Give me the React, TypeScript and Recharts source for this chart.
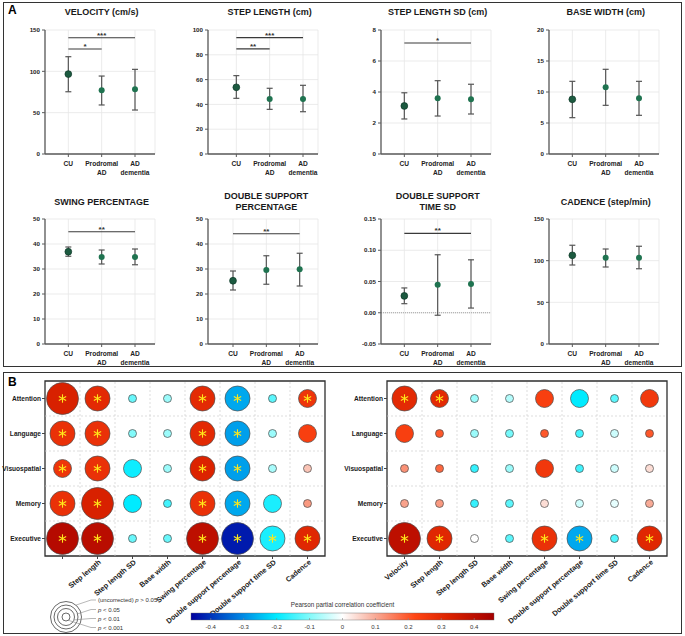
import React from "react";
import {
  ScatterChart,
  Scatter,
  ErrorBar,
  XAxis,
  YAxis,
  CartesianGrid,
  ReferenceLine,
  ReferenceArea,
} from "recharts";

const FONT = '"Liberation Sans", Arial, Helvetica, sans-serif';

// ---- panel A: group means with error bars ----
const GROUP_LINES = [["CU"], ["Prodromal", "AD"], ["AD", "dementia"]];

const velocityMean = [96.7, 77, 78.2];
const velocityLow = [75.3, 59.3, 53.2];
const velocityHigh = [117.7, 94.3, 102.4];
const velocityTicks = [0, 50, 100, 150];
const velocitySig = [
  { from: 1, to: 3, y: 140.6, label: "***" },
  { from: 1, to: 2, y: 127, label: "*" },
];

const stepMean = [53.8, 44.4, 44.4];
const stepLow = [44.9, 36, 34.1];
const stepHigh = [63.2, 53, 55.4];
const stepTicks = [0, 20, 40, 60, 80, 100];
const stepSig = [
  { from: 1, to: 3, y: 93.8, label: "***" },
  { from: 1, to: 2, y: 84.7, label: "**" },
];

const stepSdMean = [3.1, 3.59, 3.53];
const stepSdLow = [2.26, 2.45, 2.58];
const stepSdHigh = [3.95, 4.73, 4.5];
const stepSdTicks = [0, 2, 4, 6, 8];
const stepSdSig = [{ from: 1, to: 3, y: 7.16, label: "*" }];

const baseMean = [8.82, 10.75, 8.98];
const baseLow = [5.86, 7.85, 6.24];
const baseHigh = [11.72, 13.66, 11.72];
const baseTicks = [0, 5, 10, 15, 20];

const swingMean = [36.9, 34.8, 34.8];
const swingLow = [35.1, 32, 31.7];
const swingHigh = [38.8, 37.6, 38];
const swingTicks = [0, 10, 20, 30, 40, 50];
const swingSig = [{ from: 1, to: 3, y: 44.9, label: "**" }];

const dsMean = [25.3, 29.6, 29.9];
const dsLow = [21.6, 23.9, 23.2];
const dsHigh = [29.2, 35.3, 36.3];
const dsTicks = [0, 10, 20, 30, 40, 50];
const dsSig = [{ from: 1, to: 3, y: 44.1, label: "**" }];

const dsSdMean = [0.027, 0.045, 0.046];
const dsSdLow = [0.0145, -0.004, 0.0075];
const dsSdHigh = [0.0397, 0.0928, 0.0847];
const dsSdTicks = [-0.05, 0, 0.05, 0.1, 0.15];
const dsSdSig = [{ from: 1, to: 3, y: 0.127, label: "**" }];

const cadenceMean = [106.4, 103.6, 103.6];
const cadenceLow = [94.8, 92.4, 90.3];
const cadenceHigh = [118.5, 114, 117.3];
const cadenceTicks = [0, 50, 100, 150];

// ---- panel B: partial correlations ----
const ROW_LABELS = ["Attention", "Language", "Visuospatial", "Memory", "Executive"];
const COL_LABELS = [
  "Velocity",
  "Step length",
  "Step length SD",
  "Base width",
  "Swing percentage",
  "Double support percentage",
  "Double support time SD",
  "Cadence",
];
// left matrix lost its first column label in the original figure
const LEFT_COL_LABELS = ["", ...COL_LABELS.slice(1)];

const LEFT_R = [
  [0.33, 0.3, -0.12, -0.08, 0.3, -0.27, -0.13, 0.27],
  [0.28, 0.28, -0.1, -0.08, 0.3, -0.28, -0.08, 0.24],
  [0.27, 0.28, -0.19, -0.08, 0.32, -0.28, -0.07, 0.07],
  [0.28, 0.33, -0.2, -0.15, 0.28, -0.27, -0.18, 0.12],
  [0.42, 0.41, -0.12, -0.12, 0.4, -0.43, -0.18, 0.31],
];
const LEFT_P = [
  [3, 2, 0, 0, 2, 2, 0, 1],
  [2, 2, 0, 0, 2, 2, 0, 1],
  [1, 2, 1, 0, 2, 2, 0, 0],
  [2, 3, 1, 0, 2, 2, 1, 0],
  [3, 3, 0, 0, 3, 3, 2, 2],
];
const LEFT_STAR = [
  [1, 1, 0, 0, 1, 1, 0, 1],
  [1, 1, 0, 0, 1, 1, 0, 0],
  [1, 1, 0, 0, 1, 1, 0, 0],
  [1, 1, 0, 0, 1, 1, 0, 0],
  [1, 1, 0, 0, 1, 1, 1, 1],
];

const RIGHT_R = [
  [0.3, 0.3, -0.08, -0.06, 0.24, -0.2, -0.13, 0.26],
  [0.24, 0.2, -0.08, -0.11, 0.2, -0.15, -0.04, 0.2],
  [0.13, 0.18, -0.16, -0.08, 0.26, -0.15, -0.04, 0.04],
  [0.11, 0.12, -0.16, -0.13, 0.04, -0.04, -0.02, 0.1],
  [0.4, 0.31, 0.0, -0.13, 0.28, -0.27, -0.14, 0.31],
];
const RIGHT_P = [
  [2, 1, 0, 0, 1, 1, 0, 1],
  [1, 0, 0, 0, 0, 0, 0, 0],
  [0, 0, 0, 0, 1, 0, 0, 0],
  [0, 0, 0, 0, 0, 0, 0, 0],
  [3, 2, 0, 0, 2, 2, 0, 2],
];
const RIGHT_STAR = [
  [1, 1, 0, 0, 0, 0, 0, 0],
  [0, 0, 0, 0, 0, 0, 0, 0],
  [0, 0, 0, 0, 0, 0, 0, 0],
  [0, 0, 0, 0, 0, 0, 0, 0],
  [1, 1, 0, 0, 1, 1, 0, 1],
];

const COLORBAR_TICKS = [-0.4, -0.3, -0.2, -0.1, 0, 0.1, 0.2, 0.3, 0.4];
const SIG_LABELS = ["(uncorrected) p > 0.05", "p < 0.05", "p < 0.01", "p < 0.001"];

// colormap stops (value, rgb)
const CMAP: [number, number[]][] = [
  [-0.46, [0, 0, 160]],
  [-0.3, [0, 140, 230]],
  [-0.2, [0, 235, 255]],
  [-0.1, [130, 250, 250]],
  [0, [255, 255, 255]],
  [0.1, [248, 170, 150]],
  [0.22, [255, 70, 20]],
  [0.32, [220, 35, 0]],
  [0.46, [165, 0, 0]],
];

function corrColor(v: number) {
  if (v <= CMAP[0][0]) return `rgb(${CMAP[0][1].join(",")})`;
  for (let i = 1; i < CMAP.length; i++) {
    if (v <= CMAP[i][0]) {
      const [v0, c0] = CMAP[i - 1];
      const [v1, c1] = CMAP[i];
      const t = (v - v0) / (v1 - v0);
      const c = c0.map((a, k) => Math.round(a + (c1[k] - a) * t));
      return `rgb(${c.join(",")})`;
    }
  }
  return `rgb(${CMAP[CMAP.length - 1][1].join(",")})`;
}

function buildRows(mean: number[], low: number[], high: number[]) {
  return mean.map((m, i) => ({ g: i + 1, mean: m, err: [m - low[i], high[i] - m] }));
}

const PANELS = [
  { title: ["VELOCITY (cm/s)"], mean: velocityMean, low: velocityLow, high: velocityHigh, ticks: velocityTicks, sig: velocitySig, col: 0, row: 0, xMin: 0.3 },
  { title: ["STEP LENGTH (cm)"], mean: stepMean, low: stepLow, high: stepHigh, ticks: stepTicks, sig: stepSig, col: 1, row: 0, xMin: 0.15 },
  { title: ["STEP LENGTH SD (cm)"], mean: stepSdMean, low: stepSdLow, high: stepSdHigh, ticks: stepSdTicks, sig: stepSdSig, col: 2, row: 0, xMin: 0.3 },
  { title: ["BASE WIDTH (cm)"], mean: baseMean, low: baseLow, high: baseHigh, ticks: baseTicks, sig: [], col: 3, row: 0, xMin: 0.3 },
  { title: ["SWING PERCENTAGE"], mean: swingMean, low: swingLow, high: swingHigh, ticks: swingTicks, sig: swingSig, col: 0, row: 1, xMin: 0.3 },
  { title: ["DOUBLE SUPPORT", "PERCENTAGE"], mean: dsMean, low: dsLow, high: dsHigh, ticks: dsTicks, sig: dsSig, col: 1, row: 1, xMin: 0.25 },
  { title: ["DOUBLE SUPPORT", "TIME SD"], mean: dsSdMean, low: dsSdLow, high: dsSdHigh, ticks: dsSdTicks, sig: dsSdSig, col: 2, row: 1, xMin: 0.3, zero: true, decimals: 2 },
  { title: ["CADENCE (step/min)"], mean: cadenceMean, low: cadenceLow, high: cadenceHigh, ticks: cadenceTicks, sig: [], col: 3, row: 1, xMin: 0.3 },
];

const COL_X = [45, 208, 381, 549];
const ROW_TOP = [0, 185];
const ROW_PLOT_TOP = [30, 34];
const ROW_H = [185, 190];
const ROW_TITLE_Y = [12, 202];
const PLOT_W = 110;
const X_SPAN = 3.3;

const AXIS = "#5a5a5a";

function GroupTick(props: any) {
  const { x, y, payload } = props;
  const lines = GROUP_LINES[payload.value - 1] || [];
  return (
    <text x={x} y={y + 7} textAnchor="middle" fontSize={6.6} fontWeight={700} fill="#222" fontFamily={FONT}>
      {lines.map((l, i) => (
        <tspan key={i} x={x} dy={i === 0 ? 0 : 8.5}>
          {l}
        </tspan>
      ))}
    </text>
  );
}

function GroupDot(props: any) {
  const { cx, cy, payload } = props;
  const first = payload && payload.g === 1;
  return (
    <circle
      cx={cx}
      cy={cy}
      r={first ? 3.4 : 3}
      fill={first ? "#1c5a40" : "#1f7350"}
      stroke={first ? "#0f3a28" : "none"}
      strokeWidth={0.7}
    />
  );
}

function GaitPanel({ p }: { p: any }) {
  const rows = buildRows(p.mean, p.low, p.high);
  const axisX = COL_X[p.col];
  const H = ROW_H[p.row];
  const domain = [p.ticks[0], p.ticks[p.ticks.length - 1]];
  const fmt = (v: number) => (p.decimals ? v.toFixed(p.decimals) : String(v));
  const titleCx = axisX + ((2 - p.xMin) * PLOT_W) / X_SPAN;
  const lineH = 11;
  const titleTop = ROW_TITLE_Y[p.row] - (p.title.length * lineH) / 2;
  return (
    <>
      <div
        style={{
          position: "absolute",
          left: titleCx - 90,
          top: titleTop,
          width: 180,
          textAlign: "center",
          fontFamily: FONT,
          fontWeight: 700,
          fontSize: 9,
          lineHeight: `${lineH}px`,
          color: "#1a1a1a",
        }}
      >
        {p.title.map((t: string, i: number) => (
          <div key={i}>{t}</div>
        ))}
      </div>
      <div style={{ position: "absolute", left: axisX - 40, top: ROW_TOP[p.row] }}>
        <ScatterChart
          width={160}
          height={H}
          margin={{ top: ROW_PLOT_TOP[p.row], right: 10, bottom: 3, left: 10 }}
        >
          <CartesianGrid stroke="#e6e6e6" strokeWidth={0.8} />
          <XAxis
            type="number"
            dataKey="g"
            domain={[p.xMin, p.xMin + X_SPAN]}
            ticks={[1, 2, 3]}
            interval={0}
            height={28}
            tick={<GroupTick />}
            tickSize={3}
            tickLine={{ stroke: AXIS }}
            axisLine={{ stroke: AXIS, strokeWidth: 1.3 }}
            allowDataOverflow
          />
          <YAxis
            type="number"
            dataKey="mean"
            domain={domain}
            ticks={p.ticks}
            interval={0}
            width={30}
            tickFormatter={fmt}
            tick={{ fontSize: 6.2, fontWeight: 700, fill: "#222", fontFamily: FONT }}
            tickSize={3}
            tickLine={{ stroke: AXIS }}
            axisLine={{ stroke: AXIS, strokeWidth: 1.3 }}
            allowDataOverflow
          />
          {p.zero ? (
            <ReferenceLine y={0} stroke="#9a9a9a" strokeDasharray="1 1" strokeWidth={0.9} />
          ) : null}
          {p.sig.map((s: any, i: number) => (
            <ReferenceLine
              key={i}
              segment={[
                { x: s.from, y: s.y },
                { x: s.to, y: s.y },
              ]}
              stroke="#3a3a3a"
              strokeWidth={1.2}
              label={{
                value: s.label,
                position: "top",
                offset: 0,
                fontSize: 8,
                fontWeight: 700,
                fill: "#333",
                fontFamily: FONT,
              }}
            />
          ))}
          <Scatter data={rows} isAnimationActive={false} shape={<GroupDot />}>
            <ErrorBar dataKey="err" direction="y" width={3} stroke="#555" strokeWidth={1.2} />
          </Scatter>
        </ScatterChart>
      </div>
    </>
  );
}

// ---- matrix helpers ----
const BUBBLE_R = [4, 9, 12.5, 16];

function Bubble(props: any) {
  const { cx, cy, payload } = props;
  if (!payload) return null;
  const rad = BUBBLE_R[payload.p];
  const s = 4.2;
  return (
    <g>
      <circle cx={cx} cy={cy} r={rad} fill={corrColor(payload.r)} stroke="#4a4a4a" strokeWidth={0.7} />
      {payload.star ? (
        <g stroke="#ffe81a" strokeWidth={1.1}>
          <line x1={cx} y1={cy - s} x2={cx} y2={cy + s} />
          <line x1={cx - s * 0.866} y1={cy - s * 0.5} x2={cx + s * 0.866} y2={cy + s * 0.5} />
          <line x1={cx - s * 0.866} y1={cy + s * 0.5} x2={cx + s * 0.866} y2={cy - s * 0.5} />
        </g>
      ) : null}
    </g>
  );
}

function ColTick(props: any) {
  const { x, y, payload, labels } = props;
  const label = labels[payload.value - 1];
  const ax = x + 4;
  const ay = y + 3;
  return (
    <text
      x={ax}
      y={ay}
      textAnchor="end"
      transform={`rotate(-40 ${ax} ${ay})`}
      fontSize={7.3}
      fontWeight={700}
      fill="#1a1a1a"
      fontFamily={FONT}
    >
      {label}
    </text>
  );
}

function RowTick(props: any) {
  const { x, y, payload } = props;
  return (
    <text x={x} y={y + 2.3} textAnchor="end" fontSize={6.6} fontWeight={700} fill="#1a1a1a" fontFamily={FONT}>
      {ROW_LABELS[payload.value - 1]}
    </text>
  );
}

const COL_IDX = COL_LABELS.map((_, i) => i + 1);
const ROW_IDX = ROW_LABELS.map((_, i) => i + 1);
const COL_EDGES = COL_IDX.slice(1).map((v) => v - 0.5);
const ROW_EDGES = ROW_IDX.slice(1).map((v) => v - 0.5);

function Matrix({ left, labels, r, p, star }: any) {
  const pts: any[] = [];
  r.forEach((row: number[], i: number) =>
    row.forEach((v, j) => pts.push({ x: j + 1, y: i + 1, r: v, p: p[i][j], star: star[i][j] }))
  );
  return (
    <div style={{ position: "absolute", left, top: 373 }}>
      <ScatterChart width={335} height={263} margin={{ top: 8, right: 10, bottom: 0, left: 0 }}>
        <XAxis
          type="number"
          dataKey="x"
          domain={[0.5, COL_IDX.length + 0.5]}
          ticks={COL_IDX}
          interval={0}
          height={80}
          tick={<ColTick labels={labels} />}
          axisLine={false}
          tickLine={{ stroke: "#444" }}
          tickSize={3}
          tickMargin={1}
        />
        <YAxis
          type="number"
          dataKey="y"
          domain={[0.5, ROW_IDX.length + 0.5]}
          reversed
          ticks={ROW_IDX}
          interval={0}
          width={45}
          tick={<RowTick />}
          axisLine={false}
          tickLine={{ stroke: "#444" }}
          tickSize={3}
          tickMargin={1}
        />
        {COL_EDGES.map((v) => (
          <ReferenceLine key={`c${v}`} x={v} stroke="#cfcfcf" strokeDasharray="2 2" strokeWidth={0.7} />
        ))}
        {ROW_EDGES.map((v) => (
          <ReferenceLine key={`r${v}`} y={v} stroke="#cfcfcf" strokeDasharray="2 2" strokeWidth={0.7} />
        ))}
        <ReferenceArea
          x1={0.5}
          x2={COL_IDX.length + 0.5}
          y1={0.5}
          y2={ROW_IDX.length + 0.5}
          fill="none"
          fillOpacity={0}
          stroke="#2e2e2e"
          strokeWidth={1.3}
        />
        <Scatter data={pts} isAnimationActive={false} shape={<Bubble />} />
      </ScatterChart>
    </div>
  );
}

function Legends() {
  const barX0 = 191;
  const barX1 = 494;
  const vMin = -0.46;
  const vMax = 0.46;
  const sx = (v: number) => barX0 + ((v - vMin) / (vMax - vMin)) * (barX1 - barX0);
  const cx = 66;
  const cy = 617;
  const radii = [15.5, 12, 8.5, 4];
  const labelY = [600, 609.5, 618.5, 627.5];
  return (
    <svg
      width={685}
      height={636}
      style={{ position: "absolute", left: 0, top: 0, pointerEvents: "none" }}
      fontFamily={FONT}
    >
      <defs>
        <linearGradient id="cbar" x1="0" x2="1" y1="0" y2="0">
          {CMAP.map(([v]) => (
            <stop key={v} offset={(v - vMin) / (vMax - vMin)} stopColor={corrColor(v)} />
          ))}
        </linearGradient>
      </defs>
      <text x={(barX0 + barX1) / 2} y={607} textAnchor="middle" fontSize={6.3} fill="#333">
        Pearson partial correlation coefficient
      </text>
      <rect x={barX0} y={613} width={barX1 - barX0} height={7} fill="url(#cbar)" stroke="#666" strokeWidth={0.4} />
      {COLORBAR_TICKS.map((v) => (
        <g key={v}>
          <line x1={sx(v)} x2={sx(v)} y1={618} y2={620} stroke="#888" strokeWidth={0.6} />
          <text x={sx(v)} y={629} textAnchor="middle" fontSize={6} fill="#333">
            {v === 0 ? "0" : String(v)}
          </text>
        </g>
      ))}
      {radii.map((rad) => (
        <circle key={rad} cx={cx} cy={cy} r={rad} fill="none" stroke="#444" strokeWidth={0.8} />
      ))}
      {SIG_LABELS.map((lab, i) => {
        const ang = (-50 + i * 35) * (Math.PI / 180);
        const px = cx + radii[i] * Math.cos(ang);
        const py = cy + radii[i] * Math.sin(ang);
        const parts = lab.split("p");
        return (
          <g key={lab}>
            <polyline
              points={`${px},${py} ${91},${labelY[i]} ${96},${labelY[i]}`}
              fill="none"
              stroke="#888"
              strokeWidth={0.6}
            />
            <text x={98} y={labelY[i] + 2.2} fontSize={6} fill="#333">
              {parts[0]}
              <tspan fontStyle="italic">p</tspan>
              {parts[1]}
            </text>
          </g>
        );
      })}
    </svg>
  );
}

export default function App() {
  return (
    <div
      style={{
        position: "absolute",
        left: 0,
        top: 0,
        width: 685,
        height: 636,
        background: "#fff",
        fontFamily: FONT,
        overflow: "hidden",
      }}
    >
      <div
        style={{
          position: "absolute",
          left: 3,
          top: 2,
          width: 679,
          height: 365,
          border: "1.5px solid #333",
          boxSizing: "border-box",
        }}
      />
      <div
        style={{
          position: "absolute",
          left: 3,
          top: 372,
          width: 679,
          height: 262,
          border: "1.5px solid #333",
          boxSizing: "border-box",
        }}
      />
      <div style={{ position: "absolute", left: 8, top: 3, fontSize: 12, fontWeight: 700 }}>A</div>
      <div style={{ position: "absolute", left: 8, top: 375, fontSize: 12, fontWeight: 700 }}>B</div>
      {PANELS.map((p, i) => (
        <GaitPanel key={i} p={p} />
      ))}
      <Matrix left={0} labels={LEFT_COL_LABELS} r={LEFT_R} p={LEFT_P} star={LEFT_STAR} />
      <Matrix left={342} labels={COL_LABELS} r={RIGHT_R} p={RIGHT_P} star={RIGHT_STAR} />
      <Legends />
    </div>
  );
}
